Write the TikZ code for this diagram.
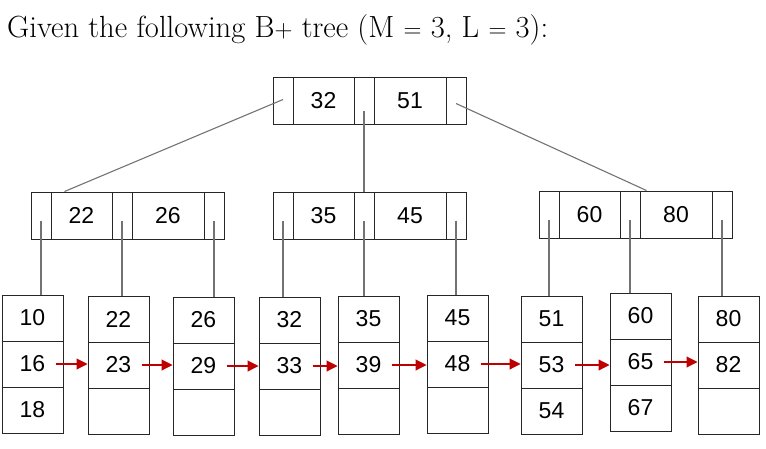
\documentclass[tikz,border=0pt]{standalone}
\usepackage{fontspec}
\newfontfamily\arial{Liberation Sans}
\usetikzlibrary{arrows.meta,calc}
\tikzset{
  cell/.style={draw=black!85,line width=1pt,rectangle,inner sep=0pt,minimum height=46pt,font=\arial\fontsize{23}{26}\selectfont},
  lcell/.style={cell,minimum width=61pt},
  conn/.style={draw=black!55,line width=1.1pt},
  nxt/.style={draw=red!75!black,line width=1.1pt,-{Triangle[length=11pt,width=11pt]}}
}
\newcommand{\inode}[5]{%
  \node[cell,minimum width=20pt,minimum height=47pt] (#1-p1) at (#2+10,#3) {};
  \node[cell,minimum width=61pt,minimum height=47pt] (#1-k1) at (#2+50.5,#3) {#4};
  \node[cell,minimum width=20pt,minimum height=47pt] (#1-p2) at (#2+91,#3) {};
  \node[cell,minimum width=72pt,minimum height=47pt] (#1-k2) at (#2+137,#3) {#5};
  \node[cell,minimum width=20pt,minimum height=47pt] (#1-p3) at (#2+183,#3) {};}
\newcommand{\leafnode}[6]{%
  \node[lcell] (#1-1) at (#2+30.5,#3+23) {#4};
  \node[lcell] (#1-2) at (#2+30.5,#3+69) {#5};
  \node[lcell] (#1-3) at (#2+30.5,#3+115) {#6};}
\begin{document}
\begin{tikzpicture}[x=1pt,y=-1pt]
\useasboundingbox (0,0) rectangle (766,448);
\node[anchor=west,inner sep=0pt,font=\fontsize{30.6}{36}\selectfont] (title) at (7,30) {Given the following B$+$ tree (M $=$ 3, L $=$ 3):};
\inode{T}{273}{100.5}{32}{51}
\inode{L}{31}{215.5}{22}{26}
\inode{M}{273}{215.5}{35}{45}
\inode{R}{539}{214.5}{60}{80}
\leafnode{a}{2}{295}{10}{16}{18}
\leafnode{b}{88}{296}{22}{23}{}
\leafnode{c}{173}{297}{26}{29}{}
\leafnode{d}{259}{297}{32}{33}{}
\leafnode{e}{338}{296}{35}{39}{}
\leafnode{f}{427}{295}{45}{48}{}
\leafnode{g}{521}{296}{51}{53}{54}
\leafnode{h}{610}{293}{60}{65}{67}
\leafnode{i}{698}{296}{80}{82}{}
% root pointers
\draw[conn] ($(T-p1.center)+(0,-1)$) -- ($(L-k1.north west)+(14,0)$);
\draw[conn] ($(T-p2.center)+(0,10)$) -- (M-p2.north);
\draw[conn] ($(T-p3.center)+(0,3)$) -- ($(R-k2.north west)+(7,0)$);
% internal pointers
\foreach \n/\p/\l in {L/p1/a,L/p2/b,L/p3/c,M/p1/d,M/p2/e,M/p3/f,R/p1/g,R/p2/h,R/p3/i}{
  \draw[conn] ($(\n-\p.center)+(0,5)$) -- (\n-\p.center |- \l-1.north);
}
% leaf links
\foreach \u/\v in {a/b,b/c,c/d,d/e,e/f,f/g,g/h,h/i}{
  \draw[nxt] ($(\u-2.east)+(-8,0)$) -- (\v-2.west |- \u-2.east);
}
\end{tikzpicture}
\end{document}
